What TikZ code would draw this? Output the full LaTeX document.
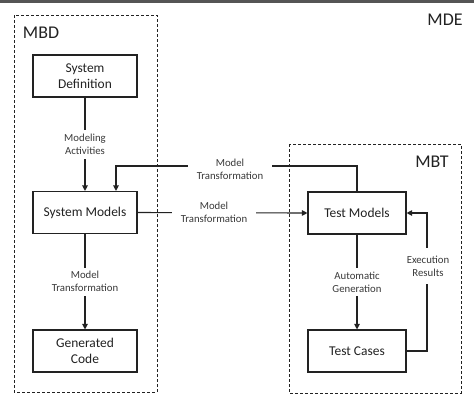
\documentclass[tikz,border=0pt]{standalone}
\usepackage{fontspec}
\setmainfont{Carlito}
\usetikzlibrary{arrows.meta}
\definecolor{ink}{HTML}{222222}
\definecolor{lbl}{HTML}{3A3A3A}
\definecolor{topbar}{HTML}{555555}
\begin{document}
\begin{tikzpicture}[x=1bp,y=-1bp,
  box/.style={draw=ink,line width=1.1bp,minimum width=104bp,minimum height=42bp,align=center,font=\fontsize{13.5}{15.5}\selectfont,text=ink,inner sep=0pt},
  zone/.style={draw=ink,dashed,dash pattern=on 3bp off 2bp,line width=0.8bp},
  conn/.style={draw=ink,line width=1.1bp},
  arr/.style={conn,-{Triangle[length=5.5bp,width=5.5bp]}},
  lab/.style={fill=white,align=center,font=\fontsize{10.8}{13}\selectfont,text=lbl,inner xsep=2bp,inner ysep=4bp},
  ztitle/.style={font=\fontsize{18}{20}\selectfont,text=ink,inner sep=0pt}]
\useasboundingbox (0,0) rectangle (474,407);
\fill[white] (0,0) rectangle (474,407);
\fill[topbar] (0,0) rectangle (474,2.5);
% zones
\draw[zone] (14,15) rectangle (157,392);
\draw[zone] (289,144) rectangle (461,393);
\node[ztitle] (mbd) at (41,33) {MBD};
\node[ztitle] (mde) at (445,20) {MDE};
\node[ztitle] (mbt) at (432,162) {MBT};
% boxes
\node[box] (sd) at (85,76) {System\\Definition};
\node[box] (sm) at (85,212.5) {System Models};
\node[box] (gc) at (85,351) {Generated\\Code};
\node[box,minimum width=98bp] (tm) at (357,213) {Test Models};
\node[box,minimum width=98bp] (tc) at (357,351) {Test Cases};
% connectors
\draw[arr] (sd.south) -- (sm.north) node[lab,pos=0.5] (la1) {Modeling\\Activities};
\draw[arr] (sm.south) -- (gc.north) node[lab,pos=0.5] (la2) {Model\\Transformation};
\draw[arr] (tm.south) -- (tc.north) node[lab,pos=0.5] (la3) {Automatic\\Generation};
\coordinate (fb1) at (357,166);
\coordinate (fb2) at (116,166);
\draw[arr] (tm.north) -- (fb1) -- (fb2) -- (fb2 |- sm.north);
\node[lab,inner xsep=9bp] (la4) at (230,169.5) {Model\\Transformation};
\draw[arr] (sm.east) -- (tm.west) node[lab,pos=0.45,inner xsep=9bp] (la5) {Model\\Transformation};
\coordinate (er1) at (427,351);
\coordinate (er2) at (427,213);
\draw[arr] (tc.east) -- (er1) -- (er2) -- (tm.east);
\node[lab,inner ysep=8bp] (la6) at (428,266) {Execution\\Results};
\end{tikzpicture}
\end{document}
